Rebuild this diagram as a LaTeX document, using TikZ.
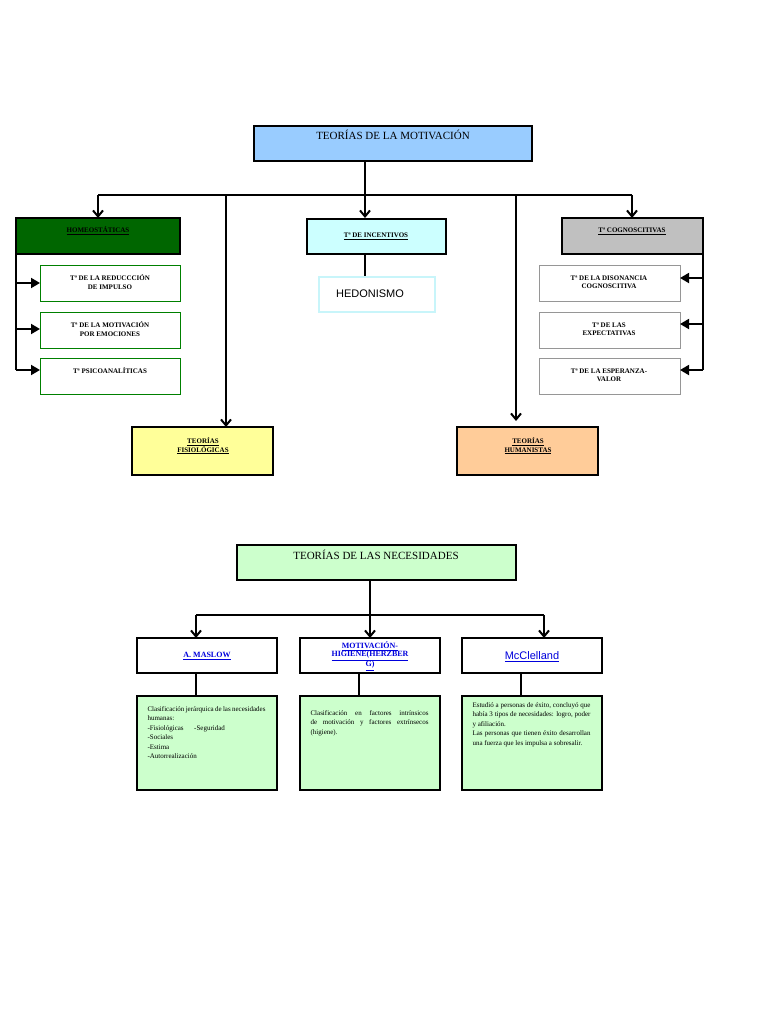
\documentclass[tikz,border=0pt]{standalone}
\usepackage{fontspec}
\setmainfont{Liberation Serif}
\newfontfamily\sansf{Liberation Sans}
\usetikzlibrary{arrows.meta}
\definecolor{tblue}{RGB}{153,204,255}
\definecolor{dgreen}{RGB}{0,102,0}
\definecolor{lcyan}{RGB}{204,255,255}
\definecolor{cybord}{RGB}{200,245,250}
\definecolor{tgray}{RGB}{192,192,192}
\definecolor{tyel}{RGB}{255,255,153}
\definecolor{torange}{RGB}{255,204,153}
\definecolor{lgreen}{RGB}{204,255,204}
\definecolor{gbord}{RGB}{0,128,0}
\definecolor{gybord}{RGB}{150,150,150}
\definecolor{lnk}{RGB}{0,0,220}
\begin{document}
\begin{tikzpicture}[x=1pt,y=-1pt,
 box/.style={draw=black,line width=1.8pt},
 sub/.style={line width=0.8pt,align=center,font=\fontsize{7}{8.5}\selectfont\bfseries},
 ln/.style={line width=2.4pt},
 dar/.style={ln,-{Straight Barb[length=6pt,width=10pt,line width=2pt]}},
 har/.style={line width=1.8pt,-{Triangle[length=9pt,width=10pt]}},
 body/.style={font=\fontsize{7}{9.5}\selectfont,align=justify,text width=118pt,anchor=north west}]
\useasboundingbox (0,0) rectangle (768,1024);
% top
\filldraw[box,fill=tblue] (254,126) rectangle (532,161);
\node (t1) at (393,135) {\fontsize{11}{12}\selectfont TEORÍAS DE LA MOTIVACIÓN};
\coordinate (s1) at (365,161);
\coordinate (h1) at (365,195);
\draw[ln] (s1) -- (h1);
\draw[ln] (98,195) -- (632,195);
\filldraw[box,fill=dgreen] (16,218) rectangle (180,254);
\node (hom) at (98,231) {\fontsize{7}{8}\selectfont\bfseries\underline{HOMEOSTÁTICAS}};
\filldraw[box,fill=lcyan] (307,219) rectangle (446,254);
\node (inc) at (376,236) {\fontsize{7}{8}\selectfont\bfseries\underline{Tª DE INCENTIVOS}};
\filldraw[box,fill=tgray] (562,218) rectangle (703,254);
\node (cog) at (632,231) {\fontsize{7}{8}\selectfont\bfseries\underline{Tª COGNOSCITIVAS}};
\draw[dar] (98,195) -- (98,218);
\draw[dar] (365,195) -- (365,218);
\draw[dar] (632,195) -- (632,218);
\draw[dar] (226,195) -- (226,427);
\draw[dar] (516,195) -- (516,421);
% hedonismo
\draw[ln] (365,254) -- (365,277);
\draw[line width=1.8pt,draw=cybord,fill=white] (319,277) rectangle (435,312);
\node (hed) at (370,294) {\sansf\fontsize{11}{12}\selectfont HEDONISMO};
% left children
\foreach \y/\t in {265/{Tª DE LA REDUCCCIÓN\\DE IMPULSO},312/{Tª DE LA MOTIVACIÓN\\POR EMOCIONES},358/{Tª PSICOANALÍTICAS\\\phantom{X}}}{
 \draw[line width=0.8pt,draw=gbord] (40,\y) rectangle (180,\y+36);
 \node[sub] at (110,\y+17) {\t};}
\draw[line width=1.8pt] (16,254) -- (16,370);
\foreach \y in {283,329,370} \draw[har] (16,\y) -- (40,\y);
% right children
\foreach \y/\t in {265/{Tª DE LA DISONANCIA\\COGNOSCITIVA},312/{Tª DE LAS\\EXPECTATIVAS},358/{Tª DE LA ESPERANZA-\\VALOR}}{
 \draw[line width=0.8pt,draw=gybord] (539,\y) rectangle (680,\y+36);
 \node[sub] at (609,\y+17) {\t};}
\draw[line width=1.8pt] (703,254) -- (703,370);
\foreach \y in {278,324,370} \draw[har] (703,\y) -- (680,\y);
% bottom of section 1
\filldraw[box,fill=tyel] (132,427) rectangle (273,475);
\node[sub] (fis) at (203,446) {\underline{TEORÍAS}\\\underline{FISIOLÓGICAS}};
\filldraw[box,fill=torange] (457,427) rectangle (598,475);
\node[sub] (hum) at (528,446) {\underline{TEORÍAS}\\\underline{HUMANISTAS}};
% section 2
\filldraw[box,fill=lgreen] (237,545) rectangle (516,580);
\node (t2) at (376,555) {\fontsize{11}{12}\selectfont TEORÍAS DE LAS NECESIDADES};
\draw[ln] (370,580) -- (370,615);
\draw[ln] (196,615) -- (544,615);
\foreach \x in {196,370,544} \draw[dar] (\x,615) -- (\x,638);
\foreach \x in {137,300,462}{
 \draw[box,fill=white] (\x,638) rectangle (\x+140,673);
 \draw[ln] (\x+59,673) -- (\x+59,696);
 \filldraw[box,fill=lgreen] (\x,696) rectangle (\x+140,790);}
\node (mas) at (207,656) {\color{lnk}\fontsize{8}{9}\selectfont\bfseries\underline{A. MASLOW}};
\node[align=center,font=\fontsize{8}{8.5}\selectfont\bfseries,text=lnk] (her) at (370,656) {\underline{MOTIVACIÓN-}\\\underline{HIGIENE(HERZBER}\\\underline{G)}};
\node (mcc) at (532,657) {\color{lnk}\sansf\fontsize{11}{12}\selectfont\underline{McClelland}};
\node[body] (b1) at (144,703) {Clasificación jerárquica de las necesidades humanas:\\-Fisiológicas\hspace{1.5em}-Seguridad\\-Sociales\\-Estima\\-Autorrealización};
\node[body] (b2) at (307,707) {Clasificación en factores intrínsicos de motivación y factores extrínsecos (higiene).};
\node[body] (b3) at (469,699) {Estudió a personas de éxito, concluyó que había 3 tipos de necesidades: logro, poder y afiliación.\\Las personas que tienen éxito desarrollan una fuerza que les impulsa a sobresalir.};
\end{tikzpicture}
\end{document}
